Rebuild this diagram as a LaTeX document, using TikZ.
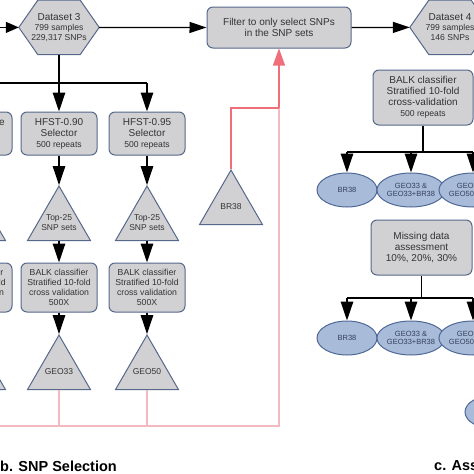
\documentclass[tikz,border=0pt]{standalone}
\usepackage{fontspec}
\setmainfont{Liberation Sans}
\usetikzlibrary{shapes.geometric,arrows.meta,backgrounds}
\definecolor{boxfill}{HTML}{D1D1D3}
\definecolor{boxline}{HTML}{56688A}
\definecolor{ellfill}{HTML}{A8BCDA}
\definecolor{ellline}{HTML}{4F6896}
\definecolor{txt}{HTML}{333333}
\definecolor{etxt}{HTML}{33405C}
\definecolor{pinkA}{HTML}{EE6E7A}
\definecolor{pinkB}{HTML}{F3B9C0}
\newcommand{\fsA}{\fontsize{10}{11}\selectfont}
\newcommand{\fsB}{\fontsize{8.6}{10}\selectfont}
\newcommand{\hexdraw}[1]{%
  \begin{pgfonlayer}{background}
  \draw[draw=boxline, fill=boxfill, line width=1pt]
    (#1.west) -- ([xshift=19pt]#1.north west) -- ([xshift=-19pt]#1.north east)
    -- (#1.east) -- ([xshift=-19pt]#1.south east) -- ([xshift=19pt]#1.south west) -- cycle;
  \end{pgfonlayer}}
\begin{document}
\begin{tikzpicture}[x=1pt,y=-1pt,
  shp/.style={draw=boxline, fill=boxfill, line width=1pt, inner sep=0pt, align=center, text=txt},
  box/.style={shp, rounded corners=6pt, font=\fsA},
  hexa/.style={inner sep=0pt, align=center, text=txt, minimum width=80pt, minimum height=54pt, font=\fsB},
  tri/.style={shp, regular polygon, regular polygon sides=3, minimum size=72.7pt},
  tlab/.style={text=txt, font=\fontsize{8.5}{10}\selectfont, align=center},
  ell/.style={draw=ellline, fill=ellfill, ellipse, line width=1pt, minimum width=60pt,
     minimum height=34pt, inner sep=0pt, align=center, text=etxt,
     font=\fontsize{7.5}{8.5}\selectfont},
  conn/.style={line width=1.3pt, black},
  arr/.style={conn, -{Triangle[length=19pt,width=12.5pt]}},
  pinkL/.style={line width=1.2pt, pinkB},
  pinkS/.style={line width=1.2pt, pinkA},
  title/.style={font=\fontsize{14.5}{16}\selectfont\bfseries, text=black}
]
\useasboundingbox (0,0) rectangle (474,474);
\clip (0,0) rectangle (474,474);

% top row
\node[hexa] (d3) at (59,27.4) {{\fsA Dataset 3}\\799 samples\\229,317 SNPs};
\hexdraw{d3}
\node[box, minimum width=144pt, minimum height=41pt] (filter) at (279,27.5)
   {Filter to only select SNPs\\in the SNP sets};
\node[hexa] (d4) at (450,27.4) {{\fsA Dataset 4}\\799 samples\\146 SNPs};
\hexdraw{d4}
\coordinate (in3) at (-10,27.4);
\draw[conn, -{Triangle[length=13pt,width=11pt]}] (in3) -- (d3.west);
\draw[conn, -{Triangle[length=17pt,width=11pt]}] (d3.east) -- (filter.west);
\draw[conn, -{Triangle[length=17pt,width=11pt]}] (filter.east) -- (d4.west);

% selectors
\node[box, minimum width=76pt, minimum height=43pt] (hL) at (-26,133.5) {};
\node[txt, font=\fsA, anchor=east, inner sep=0pt] (hLt) at (4.8,123) {e};
\node[box, minimum width=76pt, minimum height=43pt] (h90) at (59,133.5)
   {HFST-0.90\\Selector\\{\fsB 500 repeats}};
\node[box, minimum width=76pt, minimum height=43pt] (h95) at (147,133.5)
   {HFST-0.95\\Selector\\{\fsB 500 repeats}};
\coordinate (j1) at (59,83);
\draw[conn] (d3.south) -- (j1);
\draw[conn] (hL.north |- j1) -- (h95.north |- j1);
\draw[arr] (hL.north |- j1) -- (hL.north);
\draw[arr] (j1) -- (h90.north);
\draw[arr] (h95.north |- j1) -- (h95.north);

% top-25 triangles
\node[tri] (tL) at (-26,222.4) {};
\node[tri, label={[tlab]center:Top-25\\SNP sets}] (t90) at (59,222.4) {};
\node[tri, label={[tlab]center:Top-25\\SNP sets}] (t95) at (147,222.4) {};
\draw[arr] (hL.south) -- (tL.north);
\draw[arr] (h90.south) -- (t90.north);
\draw[arr] (h95.south) -- (t95.north);

% BALK boxes
\node[box, font=\fontsize{8.7}{9.8}\selectfont, minimum width=76pt, minimum height=49pt] (bL) at (-26,287.5)
   {BALK classifier\\Stratified 10-fold\\cross validation\\500X};
\node[box, font=\fontsize{8.7}{9.8}\selectfont, minimum width=76pt, minimum height=49pt] (b90) at (59,287.5)
   {BALK classifier\\Stratified 10-fold\\cross validation\\500X};
\node[box, font=\fontsize{8.7}{9.8}\selectfont, minimum width=76pt, minimum height=49pt] (b95) at (147,287.5)
   {BALK classifier\\Stratified 10-fold\\cross validation\\500X};
\draw[arr] (tL.south) -- (bL.north);
\draw[arr] (t90.south) -- (b90.north);
\draw[arr] (t95.south) -- (b95.north);

% GEO triangles
\node[tri] (gL) at (-26,371.4) {};
\node[tri, label={[tlab]center:GEO33}] (g33) at (59,371.4) {};
\node[tri, label={[tlab]center:GEO50}] (g50) at (147,371.4) {};
\draw[arr] (bL.south) -- (gL.north);
\draw[arr] (b90.south) -- (g33.north);
\draw[arr] (b95.south) -- (g50.north);

% BR38 triangle
\node[tri, label={[tlab]center:BR38}] (br38) at (231,206.4) {};

% pink connectors
\coordinate (pb) at (279,426);
\coordinate (pm) at (279,108);
\draw[pinkL] (gL.south) -- (gL.south |- pb) -- (pb) -- (pm);
\draw[pinkL] (g33.south) -- (g33.south |- pb);
\draw[pinkL] (g50.south) -- (g50.south |- pb);
\draw[pinkS] (br38.north) -- (br38.north |- pm) -- (pm);
\draw[pinkS, -{Triangle[length=17pt,width=12pt]}] (pm) -- (filter.south);

% right column
\node[box, minimum width=100pt, minimum height=55pt] (balk) at (423,97.5)
   {BALK classifier\\Stratified 10-fold\\cross-validation\\{\fsB 500 repeats}};
\node[ell] (e1) at (347,190) {BR38};
\node[ell, minimum width=57pt] (e2) at (411,190) {GEO33 \&\\GEO33+BR38};
\node[ell, minimum width=57pt] (e3) at (473,190) {GEO50 \&\\GEO50+BR38};
\coordinate (j2) at (423,152);
\draw[conn] (balk.south) -- (j2);
\draw[conn] (e1.north |- j2) -- (e3.north |- j2);
\draw[arr] (e1.north |- j2) -- (e1.north);
\draw[arr] (e2.north |- j2) -- (e2.north);
\draw[arr] (e3.north |- j2) -- (e3.north);

\node[box, minimum width=101pt, minimum height=55pt] (miss) at (421.5,247.5)
   {Missing data\\assessment\\10\%, 20\%, 30\%};
\node[ell] (f1) at (347,338) {BR38};
\node[ell, minimum width=57pt] (f2) at (411,338) {GEO33 \&\\GEO33+BR38};
\node[ell, minimum width=57pt] (f3) at (473,338) {GEO50 \&\\GEO50+BR38};
\coordinate (j3) at (421.5,298);
\draw[conn] (miss.south) -- (j3);
\draw[conn] (f1.north |- j3) -- (f3.north |- j3);
\draw[arr] (f1.north |- j3) -- (f1.north);
\draw[arr] (f2.north |- j3) -- (f2.north);
\draw[arr] (f3.north |- j3) -- (f3.north);

\node[ell] (g1) at (495,412) {};

% titles
\node[title, anchor=base west, inner sep=0pt] (tb) at (0,471) {b. SNP Selection};
\node[title, anchor=base west, inner sep=0pt] (tc) at (434,470) {c. Ass};
\end{tikzpicture}
\end{document}
